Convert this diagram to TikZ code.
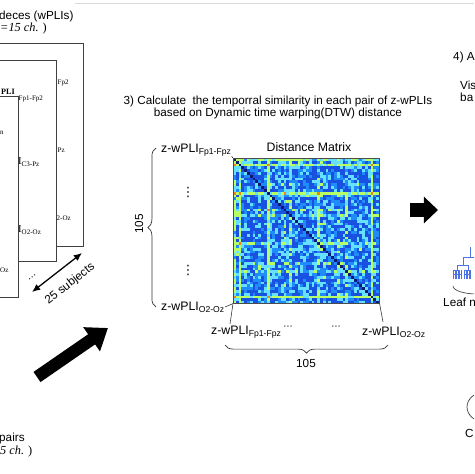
\documentclass[tikz,border=0pt]{standalone}
\usepackage{fontspec}
\setmainfont{Liberation Sans}
\newfontfamily\lblfont{Liberation Serif}
\newfontfamily\symfont{DejaVu Sans}
\usetikzlibrary{arrows.meta,decorations.pathreplacing}

\definecolor{jdark}{rgb}{0.05,0.1,0.45}
\definecolor{jblue}{rgb}{0.1,0.32,0.88}
\definecolor{jmid}{rgb}{0.12,0.55,0.98}
\definecolor{jcyan}{rgb}{0.4,0.88,1}
\definecolor{jlime}{rgb}{0.72,1,0.4}
\definecolor{jred}{rgb}{0.93,0.5,0.12}
\definecolor{dendro}{rgb}{0.3,0.45,0.9}

\tikzset{
  txt/.style={inner sep=0pt, font=\fontsize{10}{11}\selectfont},
  zlbl/.style={inner sep=0pt, font=\fontsize{10.5}{12}\selectfont},
  chan/.style={inner sep=0pt, font=\lblfont\fontsize{6}{7}\selectfont},
  chanbig/.style={inner sep=0pt, font=\lblfont\fontsize{9}{9}\selectfont},
  ital/.style={inner sep=0pt, font=\lblfont\itshape\fontsize{10.5}{12}\selectfont},
  dots/.style={inner sep=0pt, font=\symfont\fontsize{8}{8}\selectfont},
  vdots/.style={inner sep=0pt, font=\symfont\fontsize{11}{11}\selectfont},
  panel/.style={draw=black!75, fill=white, line width=0.6pt},
  lead/.style={draw=black!80, line width=0.5pt},
  brc/.style={draw=black!80, line width=0.6pt, decorate, decoration={brace, amplitude=7pt}}
}

\begin{document}
\begin{tikzpicture}[x=0.03cm, y=-0.03cm]
\useasboundingbox (0,0) rectangle (474,474);
\clip (0,0) rectangle (474,474);
\draw[black!15, line width=0.4pt] (75,3) -- (474,3);

\node[txt, anchor=west] (head1) at (-1,16) {deces (wPLIs)};
\node[ital, anchor=west] (head2) at (0,29) {=15 ch. \upshape)};

\draw[panel] (-5,43) rectangle (83,246);
\node[chan, anchor=west] (b1) at (57.5,83) {Fp2};
\node[chan, anchor=west] (b2) at (57.5,150) {Pz};
\node[chan, anchor=west] (b3) at (56.5,218) {2-Oz};

\draw[panel] (-5,60) rectangle (56,261);
\node[chan, anchor=west] (m1) at (18.5,99) {Fp1-Fp2};
\node[chanbig, anchor=west] (m2) at (18,162) {I\textsubscript{C3-Pz}};
\node[chanbig, anchor=west] (m3) at (18,230) {I\textsubscript{O2-Oz}};
\node[inner sep=0pt, anchor=west, font=\lblfont\bfseries\fontsize{7}{8}\selectfont] (mt) at (1,92) {PLI};

\draw[panel] (-5,96) rectangle (18,297);
\node[chan, anchor=west] (f1) at (0,133) {n};
\node[chan, anchor=west] (f2) at (0,270) {Oz};

\coordinate (subjA) at (32,292);
\coordinate (subjB) at (82,253);
\draw[{Latex[length=7pt,width=6pt]}-{Latex[length=7pt,width=6pt]}, line width=1.1pt] (subjA) -- (subjB);
\node[txt, rotate=38] (subj) at (70,284) {25 subjects};
\node[dots, rotate=38] (subjdots) at (33,278) {⋯};

\coordinate (bigtail) at (37,377);
\coordinate (bigtip) at (108,328);
\draw[line width=10.5pt, -{Triangle[length=17pt,width=24pt]}] (bigtail) -- (bigtip);

\node[txt, anchor=west] (foot1) at (-1,438) {pairs};
\node[ital, anchor=west] (foot2) at (0,452) {5 ch. \upshape)};

\node[txt, align=center] (title) at (278,107.5) {3) Calculate\ \ the temporral similarity in each pair of z-wPLIs\\based on Dynamic time warping(DTW) distance};

\pgfmathsetseed{11}
\foreach \i in {0,...,51}{
  \pgfmathsetmacro{\sa}{frac(abs(sin(\i*57.31+11)*4375.85))^8}
  \foreach \j in {0,...,51}{
    \pgfmathsetmacro{\sb}{frac(abs(sin(\j*57.31+11)*4375.85))^8}
    \pgfmathsetmacro{\t}{\i==\j ? 0.02 : 0.2+0.42*(\sa+\sb)+0.45*rnd}
    \pgfmathtruncatemacro{\k}{\t<0.15 ? 0 : (\t<0.44 ? 1 : (\t<0.55 ? 2 : (\t<0.7 ? 3 : (\t<1.1 ? 4 : 5))))}
    \edef\cc{\ifcase\k jdark\or jblue\or jmid\or jcyan\or jlime\else jred\fi}
    \fill[\cc] (233+\j*2.8077,158+\i*2.8077) rectangle +(3,3);
  }
}
\node[draw=black!70, line width=0.5pt, minimum width=4.38cm, minimum height=4.35cm, anchor=north west] (dm) at (233,158) {};
\node[zlbl] (dmtitle) at (309,147) {Distance Matrix};

\node[zlbl, anchor=west] (rowfirst) at (161,150) {z-wPLI\textsubscript{Fp1-Fpz}};
\node[zlbl, anchor=west] (rowlast) at (161,307) {z-wPLI\textsubscript{O2-Oz}};
\node[zlbl, anchor=west] (colfirst) at (211,332) {z-wPLI\textsubscript{Fp1-Fpz}};
\node[zlbl, anchor=west] (collast) at (362,332) {z-wPLI\textsubscript{O2-Oz}};
\coordinate (colfirsttop) at (230,324);
\coordinate (collasttop) at (383,322);

\draw[lead] (rowfirst.south east) -- (dm.north west);
\draw[lead] (rowlast.east) -- (dm.south west);
\draw[lead] (dm.south west) -- (colfirsttop);
\draw[lead] (dm.south east) -- (collasttop);

\node[vdots] (rowdots1) at (188,192) {⋮};
\node[vdots] (rowdots2) at (188,270) {⋮};
\node[dots] (coldots1) at (288,328) {⋯};
\node[dots] (coldots2) at (336,328) {⋯};

\coordinate (brLbot) at (156,307);
\coordinate (brLtop) at (156,148);
\draw[brc] (brLbot) -- (brLtop);
\node[txt, rotate=90] (rown) at (139,224) {105};
\coordinate (brBr) at (388,345);
\coordinate (brBl) at (225,345);
\draw[brc] (brBr) -- (brBl);
\node[txt] (coln) at (306,363) {105};

\coordinate (rarrtail) at (410,210);
\coordinate (rarrtip) at (438,210);
\draw[line width=12pt, -{Triangle[length=12pt,width=22pt]}] (rarrtail) -- (rarrtip);

\node[txt, anchor=west] (step4) at (453,57) {4) A};
\node[txt, anchor=west] (vis1) at (460,85) {Vis};
\node[txt, anchor=west] (vis2) at (460,97) {ba};

\draw[dendro, line width=0.6pt]
  (470,247) -- (470,257) (463,257) -- (476,257)
  (463,257) -- (463,265) (457,265) -- (468,265)
  (457,265) -- (457,270) (454,270) -- (460,270)
  (468,265) -- (468,270) (465,270) -- (471,270)
  (476,257) -- (476,268);
\foreach \x in {453.5,455,456.5,458,459.5,461,464.5,466,467.5,469,470.5}
  \draw[dendro, line width=0.5pt] (\x,270) -- (\x,279);
\draw[dendro, line width=0.5pt] (454,274) -- (461,274) (464.5,274) -- (470.5,274);
\draw[black!70, line width=0.6pt] (453,286) arc[start angle=180, end angle=270, x radius=24, y radius=-8];
\node[txt, anchor=west] (leaf) at (443,302) {Leaf n};

\draw[black!75, line width=0.6pt] (485,407) ellipse[x radius=18, y radius=15];
\node[txt, anchor=west] (cl) at (465,433) {C};
\end{tikzpicture}
\end{document}
